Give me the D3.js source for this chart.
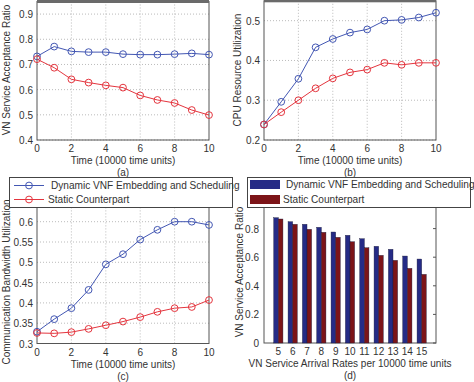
<!DOCTYPE html>
<html lang="en">
<head>
<meta charset="UTF-8">
<title>VNF charts</title>
<script src="https://d3js.org/d3.v7.min.js"></script>
<style>
  body { margin: 0; background: #fff; }
  text { font-family: "Liberation Sans", Arial, sans-serif; fill: #333; }
</style>
</head>
<body>
<script>
var width = 474, height = 382;

// data
var times = [0, 1, 2, 3, 4, 5, 6, 7, 8, 9, 10];
var accDynamic = [0.732, 0.771, 0.752, 0.749, 0.749, 0.741, 0.739, 0.739, 0.741, 0.744, 0.739];
var accStatic  = [0.721, 0.687, 0.641, 0.628, 0.617, 0.608, 0.577, 0.559, 0.547, 0.519, 0.499];
var cpuDynamic = [0.239, 0.296, 0.354, 0.433, 0.454, 0.470, 0.478, 0.500, 0.502, 0.508, 0.520];
var cpuStatic  = [0.239, 0.270, 0.300, 0.330, 0.355, 0.370, 0.377, 0.394, 0.389, 0.394, 0.394];
var bwDynamic  = [0.329, 0.360, 0.387, 0.432, 0.495, 0.520, 0.556, 0.580, 0.600, 0.600, 0.592];
var bwStatic   = [0.326, 0.325, 0.328, 0.336, 0.345, 0.354, 0.365, 0.378, 0.387, 0.390, 0.407];
var rates      = [5, 6, 7, 8, 9, 10, 11, 12, 13, 14, 15];
var rateDynamic = [0.876, 0.848, 0.830, 0.809, 0.776, 0.753, 0.729, 0.676, 0.655, 0.608, 0.587];
var rateStatic  = [0.867, 0.830, 0.795, 0.774, 0.739, 0.708, 0.666, 0.613, 0.578, 0.522, 0.480];
var timeTicks = [0, 2, 4, 6, 8, 10];
var seriesNames = ["Dynamic VNF Embedding and Scheduling", "Static Counterpart"];

var blue = "#4357b3", red = "#e4353e";
var barBlue = "#252b86", barRed = "#7c1418";
var fs = "10px", legFs = "10.1px";

var svg = d3.select("body").append("svg")
    .attr("width", width)
    .attr("height", height);

function linePanel(o) {
  var x = d3.scaleLinear().domain([0, 10]).range([o.x0, o.x1]);
  var y = d3.scaleLinear().domain(o.ydom).range([o.y1, o.y0]);
  var g = svg.append("g");

  // grid
  g.selectAll(".gx").data(timeTicks.slice(1, -1)).enter().append("line")
    .attr("x1", x).attr("x2", x).attr("y1", o.y0).attr("y2", o.y1)
    .attr("stroke", "#aaa").attr("stroke-width", 0.8).attr("stroke-dasharray", "1,2");
  g.selectAll(".gy").data(o.yticks).enter().append("line")
    .attr("x1", o.x0).attr("x2", o.x1).attr("y1", y).attr("y2", y)
    .attr("stroke", "#aaa").attr("stroke-width", 0.8).attr("stroke-dasharray", "1,2");

  // frame
  g.append("rect").attr("x", o.x0).attr("y", o.y0).attr("width", o.x1 - o.x0).attr("height", o.y1 - o.y0)
    .attr("fill", "none").attr("stroke", "#555").attr("stroke-width", 1);
  if (o.thickTop) {
    g.append("rect").attr("x", o.x0).attr("y", 0).attr("width", o.x1 - o.x0).attr("height", o.y0 + 1.5)
      .attr("fill", "#6a6a6a");
  }

  // tick labels
  g.selectAll(".tx").data(timeTicks).enter().append("text")
    .attr("x", x).attr("y", o.y1 + 12).attr("text-anchor", "middle")
    .style("font-size", fs).text(function(d) { return d; });
  g.selectAll(".ty").data(o.yticks).enter().append("text")
    .attr("x", o.x0 - 4).attr("y", function(d) { return y(d) + 4; }).attr("text-anchor", "end")
    .style("font-size", fs).text(function(d) { return d; });

  g.append("text").attr("x", (o.x0 + o.x1) / 2).attr("y", o.y1 + 24).attr("text-anchor", "middle")
    .style("font-size", fs).text("Time (10000 time units)");
  g.append("text").attr("x", (o.x0 + o.x1) / 2).attr("y", o.y1 + 36).attr("text-anchor", "middle")
    .style("font-size", fs).text(o.tag);
  g.append("text").attr("transform", "translate(" + o.ylabX + "," + o.ylabY + ") rotate(-90)")
    .attr("text-anchor", "middle").style("font-size", fs).text(o.ylabel);

  var line = d3.line().x(function(d, i) { return x(times[i]); }).y(function(d) { return y(d); });
  [[o.dyn, blue], [o.sta, red]].forEach(function(s) {
    g.append("path").datum(s[0]).attr("d", line)
      .attr("fill", "none").attr("stroke", s[1]).attr("stroke-width", 1);
    g.selectAll(null).data(s[0]).enter().append("circle")
      .attr("cx", function(d, i) { return x(times[i]); }).attr("cy", y).attr("r", 3.4)
      .attr("fill", "none").attr("stroke", s[1]).attr("stroke-width", 1);
  });
}

linePanel({x0: 37, x1: 209, y0: 1.5, y1: 140, ydom: [0.4, 0.95], yticks: [0.4, 0.5, 0.6, 0.7, 0.8, 0.9],
  dyn: accDynamic, sta: accStatic, tag: "(a)", ylabel: "VN Service Acceptance Ratio", ylabX: 10, ylabY: 70, thickTop: true});
linePanel({x0: 264, x1: 436, y0: 0.8, y1: 140, ydom: [0.2, 0.55], yticks: [0.2, 0.3, 0.4, 0.5],
  dyn: cpuDynamic, sta: cpuStatic, tag: "(b)", ylabel: "CPU Resource Utilization", ylabX: 241, ylabY: 70, thickTop: true});
linePanel({x0: 37, x1: 209, y0: 201.4, y1: 343.5, ydom: [0.3, 0.65], yticks: [0.3, 0.35, 0.4, 0.45, 0.5, 0.55, 0.6],
  dyn: bwDynamic, sta: bwStatic, tag: "(c)", ylabel: "Communication Bandwidth Utilization", ylabX: 10, ylabY: 282});

// bar panel (d)
(function() {
  var x0 = 264, x1 = 436, y0 = 200, y1 = 343;
  var x = d3.scaleLinear().domain([4, 16]).range([x0, x1]);
  var y = d3.scaleLinear().domain([0, 1]).range([y1, y0]);
  var g = svg.append("g");
  var bw = 4.6;

  g.append("rect").attr("x", x0).attr("y", y0).attr("width", x1 - x0).attr("height", y1 - y0)
    .attr("fill", "#fff").attr("stroke", "#555");

  [[rateDynamic, barBlue, -bw], [rateStatic, barRed, 0]].forEach(function(s) {
    g.selectAll(null).data(s[0]).enter().append("rect")
      .attr("x", function(d, i) { return x(rates[i]) + s[2]; })
      .attr("y", y).attr("width", bw).attr("height", function(d) { return y1 - y(d); })
      .attr("fill", s[1]).attr("stroke", "#1a1a3a").attr("stroke-width", 0.4);
  });

  var yt = [0, 0.2, 0.4, 0.6, 0.8];
  g.selectAll(".tr").data(yt).enter().append("line")
    .attr("x1", x1 - 3).attr("x2", x1).attr("y1", y).attr("y2", y).attr("stroke", "#555");
  g.selectAll(".ty").data(yt).enter().append("text")
    .attr("x", x0 - 5).attr("y", function(d) { return y(d) + 4; }).attr("text-anchor", "end")
    .style("font-size", fs).text(function(d) { return d; });
  g.selectAll(".tx").data(rates).enter().append("text")
    .attr("x", x).attr("y", y1 + 12).attr("text-anchor", "middle")
    .style("font-size", fs).text(function(d) { return d; });
  g.append("text").attr("x", (x0 + x1) / 2).attr("y", y1 + 24).attr("text-anchor", "middle")
    .style("font-size", fs).text("VN Service Arrival Rates per 10000 time units");
  g.append("text").attr("x", (x0 + x1) / 2).attr("y", y1 + 36).attr("text-anchor", "middle")
    .style("font-size", fs).text("(d)");
  g.append("text").attr("transform", "translate(243,272) rotate(-90)")
    .attr("text-anchor", "middle").style("font-size", fs).text("VN Service Acceptance Ratio");
})();

// legends
(function() {
  var lg = svg.append("g");
  lg.append("rect").attr("x", 9.5).attr("y", 177.5).attr("width", 223).attr("height", 30)
    .attr("fill", "#fff").attr("stroke", "#444");
  [[blue, 185.5], [red, 199.5]].forEach(function(c, i) {
    lg.append("line").attr("x1", 14).attr("x2", 44).attr("y1", c[1]).attr("y2", c[1])
      .attr("stroke", c[0]);
    lg.append("circle").attr("cx", 29).attr("cy", c[1]).attr("r", 3.4)
      .attr("fill", "none").attr("stroke", c[0]);
    lg.append("text").attr("x", i === 0 ? 51 : 48).attr("y", c[1] + 3.5)
      .style("font-size", legFs).text(seriesNames[i]);
  });

  var lb = svg.append("g");
  lb.append("rect").attr("x", 247.5).attr("y", 177.5).attr("width", 223).attr("height", 30)
    .attr("fill", "#fff").attr("stroke", "#444");
  [[barBlue, 184.5], [barRed, 199.5]].forEach(function(c, i) {
    lb.append("rect").attr("x", 250).attr("y", c[1] - 4.5).attr("width", 30).attr("height", 9)
      .attr("fill", c[0]);
    lb.append("text").attr("x", i === 0 ? 286 : 283).attr("y", c[1] + 3.5)
      .style("font-size", legFs).text(seriesNames[i]);
  });
})();
</script>
</body>
</html>
